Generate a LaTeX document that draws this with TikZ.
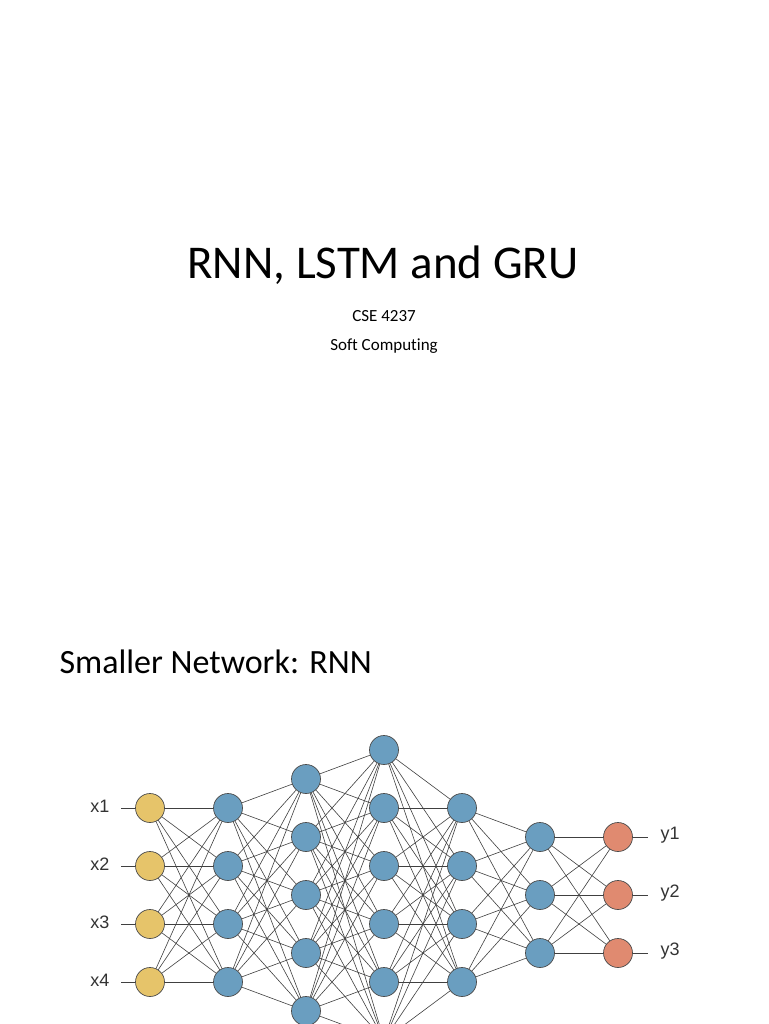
\documentclass[tikz,border=0pt]{standalone}
\usepackage{fontspec}
\setmainfont[Ligatures={NoCommon,NoRare},Contextuals=NoAlternate]{Carlito}
\newfontfamily\arial{Liberation Sans}
\definecolor{inpc}{HTML}{E6C46A}
\definecolor{hidc}{HTML}{6A9EC0}
\definecolor{outc}{HTML}{E08A70}
\begin{document}
\begin{tikzpicture}[x=1pt,y=-1pt,
  neu/.style={circle,draw=black!70,line width=0.7pt,minimum size=29pt,inner sep=0pt},
  inp/.style={neu,fill=inpc},
  hid/.style={neu,fill=hidc},
  outn/.style={neu,fill=outc},
  edge/.style={draw=black!75,line width=0.6pt},
  lab/.style={font=\arial\fontsize{18}{20}\selectfont,text=black!80}]
\clip (0,0) rectangle (768,1024);
\useasboundingbox (0,0) rectangle (768,1024);
\fill[white] (0,0) rectangle (768,1024);
\node[font=\fontsize{47}{52}\selectfont] (title) at (383,265) {RNN, LSTM and GRU};
\node[font=\fontsize{17}{19}\selectfont] (s1) at (384,316) {CSE 4237};
\node[font=\fontsize{17}{19}\selectfont] (s2) at (384,346) {Soft Computing};
\node[font=\fontsize{34}{38}\selectfont,anchor=west] (h) at (56,662) {Smaller Network: RNN};
\foreach \i/\y in {1/808,2/866,3/924,4/982}{
  \node[inp] (a\i) at (150,\y) {};
  \node[hid] (b\i) at (228,\y) {};
  \node[hid] (e\i) at (462,\y) {};
  \node[lab,anchor=east] (xl\i) at (113,\y-2) {x\i};
}
\foreach \i/\y in {1/779,2/837,3/895,4/953,5/1011}{\node[hid] (c\i) at (306,\y) {};}
\foreach \i/\y in {1/750,2/808,3/866,4/924,5/982,6/1040}{\node[hid] (d\i) at (384,\y) {};}
\foreach \i/\y in {1/837,2/895,3/953}{
  \node[hid] (f\i) at (540,\y) {};
  \node[outn] (g\i) at (618,\y) {};
  \node[lab,anchor=west] (yl\i) at (657,\y-2) {y\i};
}
\foreach \i in {1,...,4}{\foreach \j in {1,...,4}{\draw[edge] (a\i) -- (b\j);}}
\foreach \i in {1,...,4}{\foreach \j in {1,...,5}{\draw[edge] (b\i) -- (c\j);}}
\foreach \i in {1,...,5}{\foreach \j in {1,...,6}{\draw[edge] (c\i) -- (d\j);}}
\foreach \i in {1,...,6}{\foreach \j in {1,...,4}{\draw[edge] (d\i) -- (e\j);}}
\foreach \i in {1,...,4}{\foreach \j in {1,...,3}{\draw[edge] (e\i) -- (f\j);}}
\foreach \i in {1,...,3}{\foreach \j in {1,...,3}{\draw[edge] (f\i) -- (g\j);}}
\foreach \i in {1,...,4}{\draw[edge] (xl\i.east) ++(8,2) coordinate (xs\i) -- (a\i);}
\foreach \i in {1,...,3}{\draw[edge] (g\i) -- ++(30,0) coordinate (ys\i);}
\end{tikzpicture}
\end{document}
